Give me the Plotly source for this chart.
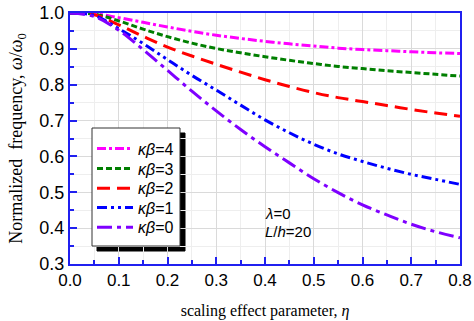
import plotly.graph_objects as go

eta = [0.0, 0.05, 0.1, 0.15, 0.2, 0.25, 0.3, 0.35, 0.4, 0.45, 0.5, 0.55, 0.6, 0.65, 0.7, 0.75, 0.8]

kb4 = [1.0, 0.998, 0.987, 0.974, 0.961, 0.949, 0.938, 0.929, 0.921, 0.914, 0.908, 0.902, 0.898, 0.895, 0.892, 0.889, 0.887]
kb3 = [1.0, 0.997, 0.978, 0.955, 0.934, 0.916, 0.901, 0.889, 0.878, 0.868, 0.859, 0.851, 0.845, 0.839, 0.834, 0.829, 0.824]
kb2 = [1.0, 0.995, 0.967, 0.935, 0.905, 0.880, 0.857, 0.835, 0.814, 0.795, 0.778, 0.764, 0.753, 0.742, 0.731, 0.721, 0.712]
kb1 = [1.0, 0.993, 0.956, 0.915, 0.870, 0.826, 0.785, 0.743, 0.702, 0.666, 0.634, 0.607, 0.586, 0.567, 0.550, 0.536, 0.522]
kb0 = [1.0, 0.990, 0.952, 0.898, 0.840, 0.782, 0.727, 0.675, 0.627, 0.582, 0.538, 0.499, 0.465, 0.437, 0.411, 0.390, 0.373]

series_names = ["<i>κβ</i>=4", "<i>κβ</i>=3", "<i>κβ</i>=2", "<i>κβ</i>=1", "<i>κβ</i>=0"]
series_vals = [kb4, kb3, kb2, kb1, kb0]
colors = ["#FF00FF", "#007F00", "#FF0000", "#0000FF", "#7F00FF"]
dashes = ["9px,3px,3px,3px", "6px,3px", "13px,7px",
          "10px,4px,3px,4px,3px,4px", "15px,5px,4px,5px"]

xticks = [0.0, 0.1, 0.2, 0.3, 0.4, 0.5, 0.6, 0.7, 0.8]
yticks = [0.3, 0.4, 0.5, 0.6, 0.7, 0.8, 0.9, 1.0]

# layout geometry (pixels)
W, H = 474, 321
ML, MR, MT, MB = 70, 14, 13, 57
PW, PH = W - ML - MR, H - MT - MB


def px_x(p):
    return (p - ML) / PW


def px_y(p):
    return (H - MB - p) / PH


legend_ids = ["legend", "legend2", "legend3", "legend4", "legend5"]
legend_rows = [148.5, 168.5, 188.3, 207.5, 227.3]

fig = go.Figure()
for name, vals, c, d, lid in zip(series_names, series_vals, colors, dashes, legend_ids):
    fig.add_trace(go.Scatter(x=eta, y=vals, mode="lines", name=name, legend=lid,
                             line=dict(color=c, width=3, dash=d, shape="spline")))

axis_blue = "#2020F0"
fig.update_xaxes(range=[0, 0.8], tickvals=xticks,
                 ticktext=[f"{v:.1f}" for v in xticks],
                 showline=True, linecolor=axis_blue, linewidth=2, mirror=True,
                 ticks="inside", ticklen=7, tickcolor=axis_blue, tickwidth=2,
                 showgrid=True, gridcolor="#DADADA", gridwidth=1,
                 minor=dict(dtick=0.05, ticks="inside", ticklen=4, tickcolor=axis_blue,
                            tickwidth=2, showgrid=True, gridcolor="#EEEEEE"),
                 zeroline=False, automargin=False,
                 tickfont=dict(family="Liberation Sans", size=17, color="black"),
                 title=dict(text="scaling effect parameter, <i>η</i>",
                            font=dict(family="Liberation Serif", size=16, color="black"),
                            standoff=15))
fig.update_yaxes(range=[0.3, 1.0], tickvals=yticks,
                 ticktext=[f"{v:.1f}" for v in yticks],
                 showline=True, linecolor=axis_blue, linewidth=2, mirror=True,
                 ticks="inside", ticklen=7, tickcolor=axis_blue, tickwidth=2,
                 showgrid=True, gridcolor="#DADADA", gridwidth=1,
                 minor=dict(dtick=0.05, ticks="inside", ticklen=4, tickcolor=axis_blue,
                            tickwidth=2, showgrid=True, gridcolor="#EEEEEE"),
                 zeroline=False, automargin=False,
                 tickfont=dict(family="Liberation Sans", size=18, color="black"),
                 title=dict(text="Normalized  frequency, <i>ω</i>/<i>ω</i><sub>0</sub>",
                            font=dict(family="Liberation Serif", size=18, color="black"),
                            standoff=12))

# legend frame with drop shadow
fig.add_shape(type="rect", xref="paper", yref="paper",
              x0=px_x(97), x1=px_x(185), y0=px_y(251), y1=px_y(133),
              fillcolor="#000000", line=dict(width=1, color="#000000"), layer="between")
fig.add_shape(type="rect", xref="paper", yref="paper",
              x0=px_x(92), x1=px_x(180), y0=px_y(246), y1=px_y(128),
              fillcolor="#FFFFFF", line=dict(width=1, color="#333333"), layer="above")

fig.add_annotation(xref="x", yref="y", x=0.395, y=0.442, xanchor="left", yanchor="middle",
                   text="<i>λ</i>=0", showarrow=False,
                   font=dict(family="Liberation Sans", size=15, color="black"))
fig.add_annotation(xref="x", yref="y", x=0.395, y=0.392, xanchor="left", yanchor="middle",
                   text="<i>L</i>/<i>h</i>=20", showarrow=False,
                   font=dict(family="Liberation Sans", size=15, color="black"))

legend_common = dict(xanchor="left", yanchor="middle", bgcolor="rgba(0,0,0,0)",
                     borderwidth=0, itemwidth=36,
                     font=dict(family="Liberation Sans", size=16, color="black"))
legend_layout = {lid: dict(x=px_x(92), y=px_y(row), **legend_common)
                 for lid, row in zip(legend_ids, legend_rows)}

fig.update_layout(
    width=W, height=H,
    margin=dict(l=ML, r=MR, t=MT, b=MB),
    plot_bgcolor="white", paper_bgcolor="white",
    showlegend=True,
    **legend_layout,
)

fig.write_html("out.html")
